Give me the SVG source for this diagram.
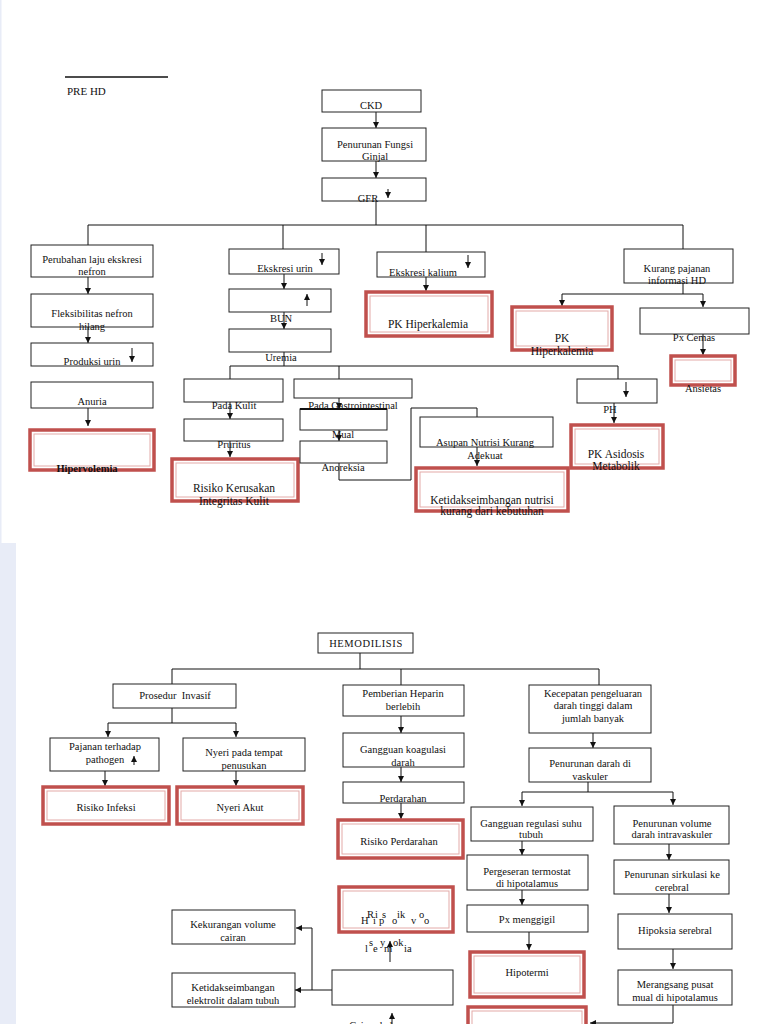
<svg xmlns="http://www.w3.org/2000/svg" width="768" height="1024" viewBox="0 0 768 1024">
<style>
.b{fill:#fff;stroke:#222;stroke-width:1}
.r{fill:#fff;stroke:#c0504d;stroke-width:3.5}
.ri{fill:none;stroke:#e3aaa8;stroke-width:1}
.t{font-family:"Liberation Serif","DejaVu Serif",serif;font-size:10.5px;fill:#111;text-anchor:middle}
.tr{font-size:11.5px}
.bd{font-weight:bold}
.c{stroke:#111;stroke-width:1;fill:none}
.a{marker-end:url(#ah)}
</style>
<defs>
<marker id="ah" viewBox="0 0 6 6" refX="6" refY="3" markerWidth="6" markerHeight="6" markerUnits="userSpaceOnUse" orient="auto"><path d="M0,0 L6,3 L0,6 z" fill="#111"/></marker>
</defs>
<rect x="0" y="0" width="768" height="1024" fill="#fff"/>
<rect x="0" y="0" width="1.5" height="543" fill="#e8ecf7"/>
<rect x="0" y="543" width="16" height="481" fill="#e8ecf7"/>

<g id="header">
<line x1="65" y1="77" x2="168" y2="77" stroke="#111" stroke-width="1.5"/>
<text class="t" x="67" y="95" style="text-anchor:start;font-size:11px">PRE HD</text>
</g>

<g id="connectors">
<path class="c a" d="M376,112 V128"/>
<path class="c a" d="M376,161 V178"/>
<path class="c" d="M376,201 V225 M88,225 H683 M88,225 V245 M283,225 V249 M426,225 V252 M683,225 V249"/>
<path class="c a" d="M88,277 V294"/>
<path class="c a" d="M88,327 V343"/>
<path class="c a" d="M88,408 V426"/>
<path class="c a" d="M284,274 V289"/>
<path class="c a" d="M284,312 V329"/>
<path class="c" d="M284,352 V366 M230,366 H618 M230,366 V379 M339,366 V379 M618,366 V379"/>
<path class="c a" d="M230,402 V419"/>
<path class="c a" d="M230,441 V457"/>
<path class="c a" d="M339,398 V409"/>
<path class="c a" d="M339,430 V441"/>
<path class="c" d="M339,463 V480 H411 V408 H477 V417"/>
<path class="c a" d="M477,447 V466"/>
<path class="c a" d="M426,277 V291"/>
<path class="c" d="M683,283 V294 M562,294 H703"/>
<path class="c a" d="M562,294 V306"/>
<path class="c a" d="M703,294 V307"/>
<path class="c a" d="M703,334 V355"/>
<path class="c a" d="M614,403 V423"/>

<path class="c" d="M360,653 V669 M172,669 H599 M172,669 V684 M401,669 V685 M599,669 V685"/>
<path class="c" d="M172,708 V723 M108,723 H236"/>
<path class="c a" d="M108,723 V737"/>
<path class="c a" d="M236,723 V737"/>
<path class="c a" d="M105,771 V786"/>
<path class="c a" d="M236,771 V786"/>
<path class="c a" d="M401,716 V733"/>
<path class="c a" d="M401,767 V782"/>
<path class="c a" d="M401,803 V819"/>
<path class="c a" d="M593,733 V748"/>
<path class="c" d="M588,782 V792 M522,792 H673"/>
<path class="c a" d="M522,792 V806"/>
<path class="c a" d="M673,792 V805"/>
<path class="c a" d="M522,841 V855"/>
<path class="c a" d="M669,844 V860"/>
<path class="c a" d="M522,890 V905"/>
<path class="c a" d="M529,932 V950"/>
<path class="c a" d="M669,894 V913"/>
<path class="c a" d="M673,949 V969"/>
<path class="c a" d="M673,1005 V1023 H590"/>
<path class="c a" d="M390,962 V941"/>
<path class="c a" d="M392,1024 V1013"/>
<path class="c a" d="M332,990 H295"/>
<path class="c a" d="M312,990 V928 H296"/>
</g>

<g id="ckd"><rect class="b" x="322" y="90" width="99" height="22"/><text class="t" x="371" y="109">CKD</text></g>
<g id="fungsi"><rect class="b" x="322" y="128" width="104" height="33"/><text class="t" x="375" y="148">Penurunan Fungsi</text><text class="t" x="375" y="160">Ginjal</text></g>
<g id="gfr"><rect class="b" x="322" y="178" width="104" height="23"/><path class="c a" d="M388,189 V198"/><text class="t" x="368" y="202">GFR</text></g>

<g id="perubahan"><rect class="b" x="31" y="245" width="122" height="32"/><text class="t" x="92" y="263">Perubahan laju ekskresi</text><text class="t" x="92" y="275">nefron</text></g>
<g id="fleksibilitas"><rect class="b" x="31" y="294" width="122" height="33"/><text class="t" x="92" y="317">Fleksibilitas nefron</text><text class="t" x="92" y="330">hilang</text></g>
<g id="produksi"><rect class="b" x="31" y="343" width="122" height="23"/><path class="c a" d="M132,348 V362"/><text class="t" x="92" y="365">Produksi urin</text></g>
<g id="anuria"><rect class="b" x="31" y="382" width="122" height="26"/><text class="t" x="92" y="405">Anuria</text></g>
<g id="hipervolemia"><rect class="r" x="30" y="430" width="124" height="40"/><rect class="ri" x="34" y="434" width="116" height="32"/><text class="t bd" x="87" y="472">Hipervolemia</text></g>

<g id="ekskresi-urin"><rect class="b" x="229" y="249" width="110" height="25"/><path class="c a" d="M322,253 V265"/><text class="t" x="285" y="272">Ekskresi urin</text></g>
<g id="bun"><rect class="b" x="229" y="289" width="102" height="23"/><path class="c a" d="M307,306 V294"/><text class="t" x="281" y="322">BUN</text></g>
<g id="uremia"><rect class="b" x="229" y="329" width="102" height="23"/><text class="t" x="281" y="361">Uremia</text></g>
<g id="kulit"><rect class="b" x="184" y="379" width="99" height="23"/><text class="t" x="234" y="409">Pada Kulit</text></g>
<g id="gastro"><rect class="b" x="294" y="379" width="118" height="19"/><text class="t" x="353" y="409">Pada Gastrointestinal</text></g>
<g id="pruritus"><rect class="b" x="184" y="419" width="99" height="22"/><text class="t" x="234" y="448">Pruritus</text></g>
<g id="risiko-kulit"><rect class="r" x="172" y="459" width="126" height="42"/><rect class="ri" x="176" y="463" width="118" height="34"/><text class="t tr" x="234" y="492">Risiko Kerusakan</text><text class="t tr" x="234" y="505">Integritas Kulit</text></g>
<g id="mual"><rect class="b" x="300" y="409" width="87" height="21"/><line x1="300" y1="409" x2="387" y2="409" stroke="#111" stroke-width="2"/><text class="t" x="343" y="438">Mual</text></g>
<g id="anoreksia"><rect class="b" x="300" y="441" width="87" height="22"/><text class="t" x="343" y="471">Anoreksia</text></g>
<g id="asupan"><rect class="b" x="420" y="417" width="133" height="30"/><text class="t" x="485" y="446">Asupan Nutrisi Kurang</text><text class="t" x="485" y="459">Adekuat</text></g>
<g id="nutrisi"><rect class="r" x="416" y="468" width="152" height="43"/><rect class="ri" x="420" y="472" width="144" height="35"/><text class="t tr" x="492" y="504">Ketidakseimbangan nutrisi</text><text class="t tr" x="492" y="515">kurang dari kebutuhan</text></g>
<g id="kalium"><rect class="b" x="377" y="252" width="108" height="25"/><path class="c a" d="M468,255 V268"/><text class="t" x="423" y="276">Ekskresi kalium</text></g>
<g id="pk-hiperkalemia"><rect class="r" x="366" y="292" width="126" height="44"/><rect class="ri" x="370" y="296" width="118" height="36"/><text class="t tr" x="428" y="328">PK Hiperkalemia</text></g>
<g id="kurang-pajanan"><rect class="b" x="624" y="249" width="109" height="34"/><text class="t" x="677" y="272">Kurang pajanan</text><text class="t" x="677" y="284">informasi HD</text></g>
<g id="pk-hiperkalemia-2"><rect class="r" x="512" y="307" width="100" height="43"/><rect class="ri" x="516" y="311" width="92" height="35"/><text class="t tr" x="562" y="342">PK</text><text class="t tr" x="562" y="355">Hiperkalemia</text></g>
<g id="cemas"><rect class="b" x="640" y="308" width="109" height="26"/><text class="t" x="694" y="341">Px Cemas</text></g>
<g id="ansietas"><rect class="r" x="671" y="356" width="64" height="29"/><rect class="ri" x="675" y="360" width="56" height="21"/><text class="t" x="703" y="392">Ansietas</text></g>
<g id="ph"><rect class="b" x="577" y="379" width="80" height="24"/><path class="c a" d="M626,382 V397"/><text class="t" x="610" y="413">PH</text></g>
<g id="asidosis"><rect class="r" x="571" y="425" width="92" height="43"/><rect class="ri" x="575" y="429" width="84" height="35"/><text class="t tr" x="616" y="458">PK Asidosis</text><text class="t tr" x="616" y="470">Metabolik</text></g>

<g id="hemodilisis"><rect class="b" x="318" y="633" width="95" height="20"/><text class="t" x="366" y="647" style="letter-spacing:0.6px;font-size:10.5px">HEMODILISIS</text></g>
<g id="prosedur"><rect class="b" x="113" y="684" width="123" height="24"/><text class="t" x="175" y="699" style="white-space:pre">Prosedur  Invasif</text></g>
<g id="pajanan"><rect class="b" x="50" y="738" width="109" height="33"/><path class="c a" d="M134,765 V756"/><text class="t" x="105" y="750">Pajanan terhadap</text><text class="t" x="105" y="763">pathogen</text></g>
<g id="nyeri-tempat"><rect class="b" x="183" y="738" width="122" height="33"/><text class="t" x="244" y="756">Nyeri pada tempat</text><text class="t" x="244" y="769">penusukan</text></g>
<g id="risiko-infeksi"><rect class="r" x="43" y="787" width="126" height="37"/><rect class="ri" x="47" y="791" width="118" height="29"/><text class="t" x="106" y="811">Risiko Infeksi</text></g>
<g id="nyeri-akut"><rect class="r" x="177" y="787" width="126" height="37"/><rect class="ri" x="181" y="791" width="118" height="29"/><text class="t" x="240" y="811">Nyeri Akut</text></g>
<g id="heparin"><rect class="b" x="343" y="685" width="121" height="31"/><text class="t" x="403" y="697">Pemberian Heparin</text><text class="t" x="403" y="710">berlebih</text></g>
<g id="koagulasi"><rect class="b" x="343" y="733" width="121" height="34"/><text class="t" x="403" y="753">Gangguan koagulasi</text><text class="t" x="403" y="766">darah</text></g>
<g id="perdarahan"><rect class="b" x="343" y="782" width="121" height="21"/><text class="t" x="403" y="802">Perdarahan</text></g>
<g id="risiko-perdarahan"><rect class="r" x="338" y="820" width="125" height="38"/><rect class="ri" x="342" y="824" width="117" height="30"/><text class="t" x="399" y="845">Risiko Perdarahan</text></g>
<g id="kecepatan"><rect class="b" x="529" y="685" width="122" height="48"/><text class="t" x="593" y="697">Kecepatan pengeluaran</text><text class="t" x="593" y="709">darah tinggi dalam</text><text class="t" x="593" y="722">jumlah banyak</text></g>
<g id="penurunan-darah"><rect class="b" x="529" y="748" width="122" height="34"/><text class="t" x="590" y="767">Penurunan darah di</text><text class="t" x="590" y="780">vaskuler</text></g>
<g id="regulasi-suhu"><rect class="b" x="471" y="807" width="122" height="34"/><text class="t" x="531" y="827">Gangguan regulasi suhu</text><text class="t" x="531" y="838">tubuh</text></g>
<g id="volume-intravaskuler"><rect class="b" x="614" y="806" width="115" height="38"/><text class="t" x="672" y="827">Penurunan volume</text><text class="t" x="672" y="838">darah intravaskuler</text></g>
<g id="termostat"><rect class="b" x="467" y="855" width="121" height="35"/><text class="t" x="527" y="875">Pergeseran termostat</text><text class="t" x="527" y="887">di hipotalamus</text></g>
<g id="menggigil"><rect class="b" x="467" y="905" width="121" height="27"/><text class="t" x="527" y="923">Px menggigil</text></g>
<g id="hipotermi"><rect class="r" x="470" y="952" width="114" height="45"/><rect class="ri" x="474" y="956" width="106" height="37"/><text class="t" x="527" y="976">Hipotermi</text></g>
<g id="red-bottom"><rect class="r" x="468" y="1007" width="118" height="30"/><rect class="ri" x="472" y="1011" width="110" height="22"/></g>
<g id="sirkulasi"><rect class="b" x="614" y="860" width="115" height="34"/><text class="t" x="672" y="878">Penurunan sirkulasi ke</text><text class="t" x="672" y="891">cerebral</text></g>
<g id="hipoksia"><rect class="b" x="618" y="914" width="114" height="35"/><text class="t" x="675" y="934">Hipoksia serebral</text></g>
<g id="merangsang"><rect class="b" x="618" y="970" width="114" height="35"/><text class="t" x="675" y="988">Merangsang pusat</text><text class="t" x="675" y="1001">mual di hipotalamus</text></g>
<g id="risiko-hipovolemia"><rect class="r" x="339" y="887" width="114" height="45"/><rect class="ri" x="343" y="891" width="106" height="37"/>
<text class="t" y="918" style="text-anchor:start"><tspan x="367">R</tspan><tspan x="375">i</tspan><tspan x="382">s</tspan><tspan x="397">ik</tspan><tspan x="419">o</tspan></text>
<text class="t" y="924" style="text-anchor:start"><tspan x="361">H</tspan><tspan x="373">i</tspan><tspan x="379">p</tspan><tspan x="392">o</tspan><tspan x="411">v</tspan><tspan x="424">o</tspan></text>
<text class="t" y="952" style="text-anchor:start"><tspan x="365">l</tspan><tspan x="373">e</tspan><tspan x="384">m</tspan><tspan x="404">ia</tspan></text>
<text class="t" y="946" style="text-anchor:start"><tspan x="369">s</tspan><tspan x="380">y</tspan><tspan x="393">ok</tspan></text>
</g>
<g id="cairan-keluar"><rect class="b" x="332" y="970" width="121" height="35"/><text class="t" x="392" y="1029">Cairan keluar secara</text></g>
<g id="kekurangan-volume"><rect class="b" x="172" y="910" width="123" height="34"/><text class="t" x="233" y="928">Kekurangan volume</text><text class="t" x="233" y="941">cairan</text></g>
<g id="elektrolit"><rect class="b" x="172" y="973" width="123" height="34"/><text class="t" x="233" y="991">Ketidakseimbangan</text><text class="t" x="233" y="1004">elektrolit dalam tubuh</text></g>
</svg>
